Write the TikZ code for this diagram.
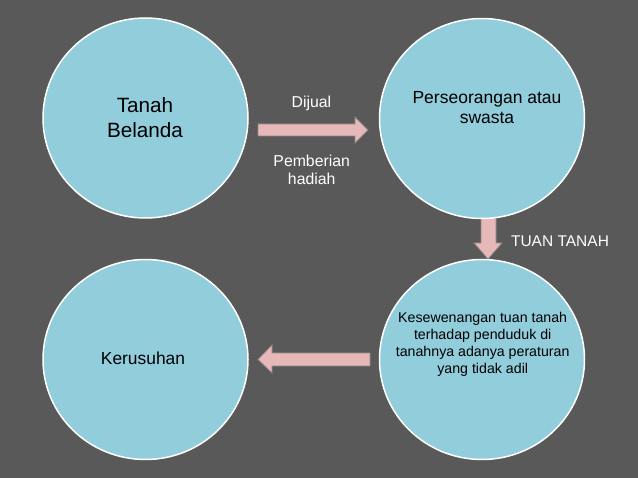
\documentclass[tikz,border=0pt]{standalone}
\usepackage{fontspec}
\setmainfont{Liberation Sans}
\usetikzlibrary{shapes.geometric}
\definecolor{bg}{HTML}{595959}
\definecolor{circfill}{HTML}{92CDDC}
\definecolor{arrfill}{HTML}{E6B9B8}
\definecolor{arrline}{HTML}{8E8585}
\begin{document}
\begin{tikzpicture}[x=1pt,y=-1pt,
 circ/.style={ellipse, fill=circfill, draw=white, line width=1.5pt, minimum width=205pt, minimum height=200pt, inner sep=0pt},
 blockarrow/.style={fill=arrfill, draw=arrline, line width=0.8pt, line join=miter},
 intext/.style={text=black, align=center, inner sep=0pt},
 outtext/.style={text=white, align=center, inner sep=0pt}]
\fill[bg] (0,0) rectangle (638,478);
\useasboundingbox (0,0) rectangle (638,478);
% arrows (drawn under the circles)
\draw[blockarrow] (258,124) -- (355,124) -- (355,117) -- (368,130) -- (355,143) -- (355,136) -- (258,136) -- cycle;
\draw[blockarrow] (481,218) -- (496,218) -- (496,243) -- (502,243) -- (488,259) -- (474,243) -- (481,243) -- cycle;
\draw[blockarrow] (370,353) -- (272,353) -- (272,345) -- (258,359.5) -- (272,373) -- (272,366) -- (370,366) -- cycle;
% circles
\node[circ] (tanah) at (145.5,118) {};
\node[circ] (swasta) at (482,118.5) {};
\node[circ] (kerus) at (145.5,359.5) {};
\node[circ] (kesew) at (482,359.5) {};
% texts
\node[intext, font=\fontsize{20.7}{25}\selectfont] (t1) at (145,118) {Tanah\\Belanda};
\node[intext, font=\fontsize{17.5}{20}\selectfont] (t2) at (487,107.6) {Perseorangan atau\\swasta};
\node[intext, font=\fontsize{14.2}{16.7}\selectfont] (t3) at (482.7,344.3) {Kesewenangan tuan tanah\\terhadap penduduk di\\tanahnya adanya peraturan\\yang tidak adil};
\node[intext, font=\fontsize{17.4}{20}\selectfont, anchor=base] (t4) at (143,364.7) {Kerusuhan};
\node[outtext, font=\fontsize{15.8}{18}\selectfont, anchor=base] (l1) at (311.5,108) {Dijual};
\node[outtext, font=\fontsize{15.8}{18}\selectfont] (l2) at (311.7,169.4) {Pemberian\\hadiah};
\node[outtext, font=\fontsize{15.5}{18}\selectfont, anchor=base] (l3) at (560,246.7) {TUAN TANAH};
\end{tikzpicture}
\end{document}
